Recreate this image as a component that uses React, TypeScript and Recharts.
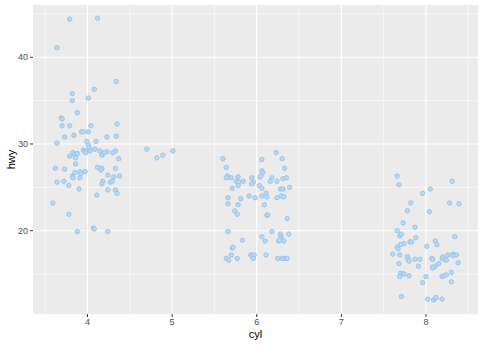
import React from "react";
import { ScatterChart, Scatter, XAxis, YAxis, ReferenceArea, ReferenceLine } from "recharts";

document.body.style.margin = "0";

// jittered points, one list per cylinder group
const cyl4: [number, number][] = [
  [3.79, 44.4], [4.12, 44.5], [3.64, 41.1], [4.34, 37.2], [4.08, 36.3], [3.82, 35.8], [3.82, 35.0], [4.01, 35.3],
  [3.88, 33.6], [3.69, 33.0], [3.7, 32.9], [3.7, 32.1], [3.79, 32.1], [4.04, 32.1], [4.35, 32.3], [3.93, 31.4],
  [3.95, 31.4], [4.01, 31.4], [3.84, 31.0], [3.73, 30.8], [4.23, 30.8], [4.34, 30.9], [3.99, 30.3], [4.1, 30.3],
  [3.64, 30.1], [4.01, 29.9], [4.02, 29.5], [3.95, 29.3], [3.97, 29.1], [4.04, 29.3], [4.09, 29.4], [4.15, 29.2],
  [4.17, 28.7], [4.23, 29.1], [4.2, 29.0], [4.33, 29.2], [4.3, 29.0], [4.37, 28.3], [3.79, 28.6], [3.83, 29.0],
  [3.85, 28.8], [3.88, 28.9], [3.86, 28.4], [3.86, 27.7], [3.62, 27.2], [3.73, 27.1], [3.85, 26.7], [3.91, 26.8],
  [3.92, 26.6], [3.97, 26.8], [3.82, 26.3], [3.83, 26.1], [3.91, 26.1], [3.64, 25.6], [3.72, 25.7], [3.78, 25.2],
  [3.9, 24.8], [4.12, 27.3], [4.17, 27.2], [4.16, 27.0], [4.33, 27.2], [4.38, 26.3], [4.24, 26.4], [4.31, 26.2],
  [4.18, 25.7], [4.17, 25.4], [4.27, 25.6], [4.29, 25.7], [4.24, 24.7], [4.33, 24.7], [4.35, 24.3], [4.11, 24.1],
  [3.59, 23.2], [3.78, 21.9], [3.88, 19.9], [4.07, 20.3], [4.08, 20.2], [4.24, 19.9], [3.99, 29.2], [4.03, 29.2],
  [3.98, 29.0],
];

const cyl5: [number, number][] = [
  [4.7, 29.4], [4.82, 28.4], [4.89, 28.7], [5.01, 29.2],
];

const cyl6: [number, number][] = [
  [6.23, 29.0], [5.6, 28.3], [6.06, 28.2], [6.3, 28.3], [5.64, 27.3], [6.33, 27.2], [6.06, 26.9], [6.07, 26.7],
  [5.65, 26.3], [5.67, 26.2], [5.7, 26.1], [5.64, 26.1], [5.78, 26.2], [5.76, 25.7], [5.79, 25.6], [5.84, 25.7],
  [5.94, 26.1], [5.96, 25.6], [5.94, 25.4], [6.04, 26.2], [6.05, 26.3], [6.18, 26.1], [6.16, 25.7], [6.24, 25.7],
  [6.31, 26.0], [6.35, 26.1], [5.78, 25.2], [5.71, 24.9], [6.03, 25.2], [6.06, 24.9], [6.39, 25.0], [6.28, 24.8],
  [6.31, 24.8], [5.91, 24.0], [5.98, 23.8], [6.06, 24.0], [6.11, 24.3], [6.12, 23.9], [5.66, 23.8], [5.81, 23.7],
  [6.24, 23.8], [6.29, 24.0], [6.32, 23.9], [5.66, 23.1], [5.78, 23.0], [6.09, 23.0], [5.74, 22.3], [5.77, 21.9],
  [6.12, 21.8], [6.13, 21.8], [6.36, 21.4], [5.66, 19.9], [6.18, 19.9], [5.83, 18.9], [6.06, 19.3], [6.1, 18.8],
  [6.28, 19.6], [6.29, 19.3], [6.38, 19.6], [6.26, 18.8], [6.32, 18.8], [5.71, 18.0], [5.72, 18.1], [5.7, 17.2],
  [5.64, 16.8], [5.67, 16.6], [5.77, 16.8], [5.93, 17.2], [5.94, 17.1], [5.97, 17.2], [5.96, 16.8], [6.11, 17.2],
  [6.25, 16.8], [6.3, 16.8], [6.32, 16.8], [6.35, 16.8], [6.36, 16.8], [6.28, 19.1], [6.27, 18.9],
];

const cyl8: [number, number][] = [
  [7.66, 26.3], [7.68, 25.3], [8.31, 25.7], [7.96, 24.3], [8.05, 24.8], [7.82, 23.2], [8.28, 23.2], [8.39, 23.1],
  [7.78, 22.3], [8.04, 22.2], [7.73, 20.9], [7.87, 20.4], [7.66, 20.0], [7.69, 19.4], [7.71, 19.6], [8.34, 19.3],
  [7.88, 19.2], [7.81, 18.7], [7.83, 18.7], [8.11, 18.8], [7.74, 18.5], [7.7, 18.4], [7.66, 18.1], [7.67, 17.9],
  [8.01, 18.2], [8.13, 18.4], [7.61, 17.3], [7.69, 17.2], [7.78, 17.0], [7.79, 16.7], [7.8, 16.5], [7.87, 16.7],
  [7.93, 16.7], [8.07, 16.8], [8.08, 16.7], [8.19, 16.8], [8.2, 17.0], [8.22, 16.7], [8.24, 16.6], [8.26, 17.2],
  [8.32, 17.3], [8.32, 17.1], [8.36, 17.2], [7.68, 16.2], [7.91, 15.9], [8.08, 15.8], [8.11, 15.9], [8.08, 15.7],
  [8.15, 16.2], [8.38, 16.3], [7.7, 15.1], [7.73, 15.0], [7.74, 15.0], [7.69, 14.7], [7.8, 14.8], [8.0, 14.7],
  [8.19, 14.7], [8.21, 14.8], [8.24, 14.9], [8.3, 15.2], [7.96, 14.0], [8.3, 14.1], [7.71, 12.4], [8.02, 12.1],
  [8.09, 12.0], [8.11, 12.2], [8.19, 12.1], [8.12, 12.3],
];

const xTicks = [4, 5, 6, 7, 8];
const yTicks = [20, 30, 40];
const xMinor = [3.5, 4.5, 5.5, 6.5, 7.5, 8.5];
const yMinor = [15, 25, 35, 45];
const xDomain: [number, number] = [3.356, 8.615];
const yDomain: [number, number] = [10.39, 46.03];

const points = [...cyl4, ...cyl5, ...cyl6, ...cyl8].map(([cyl, hwy]) => ({ cyl, hwy }));

const Dot = (props: any) => (
  <circle cx={props.cx} cy={props.cy} r={2.2} fill="#BBD8F0" stroke="#9CC6EA" strokeWidth={1} />
);

const tickStyle = { fontSize: 9, fill: "#4D4D4D", fontFamily: "Liberation Sans, Arial, sans-serif" };

export default function App() {
  return (
    <ScatterChart width={485} height={346} margin={{ top: 5, right: 7, bottom: 0, left: 0 }}>
      <XAxis
        type="number"
        dataKey="cyl"
        domain={xDomain}
        ticks={xTicks}
        allowDataOverflow
        axisLine={false}
        tickSize={3}
        tickMargin={2}
        tickLine={{ stroke: "#333333" }}
        tick={tickStyle}
        height={32}
        label={{
          content: ({ viewBox }: any) => (
            <text
              x={viewBox.x + viewBox.width / 2}
              y={viewBox.y + 24}
              textAnchor="middle"
              fontSize={11}
              fontFamily="Liberation Sans, Arial, sans-serif"
              fill="#000"
            >
              cyl
            </text>
          ),
        }}
      />
      <YAxis
        type="number"
        dataKey="hwy"
        domain={yDomain}
        ticks={yTicks}
        allowDataOverflow
        axisLine={false}
        tickSize={3}
        tickMargin={2}
        tickLine={{ stroke: "#333333" }}
        tick={tickStyle}
        width={33}
        label={{
          content: ({ viewBox }: any) => {
            const cx = 15;
            const cy = viewBox.y + viewBox.height / 2;
            return (
              <text
                x={cx}
                y={cy}
                transform={`rotate(-90 ${cx} ${cy})`}
                textAnchor="middle"
                fontSize={11}
                fontFamily="Liberation Sans, Arial, sans-serif"
                fill="#000"
              >
                hwy
              </text>
            );
          },
        }}
      />
      <ReferenceArea x1={xDomain[0]} x2={xDomain[1]} y1={yDomain[0]} y2={yDomain[1]} fill="#EBEBEB" fillOpacity={1} stroke="none" />
      {xMinor.map((v) => (
        <ReferenceLine key={`xm${v}`} x={v} stroke="#FFFFFF" strokeWidth={0.55} />
      ))}
      {yMinor.map((v) => (
        <ReferenceLine key={`ym${v}`} y={v} stroke="#FFFFFF" strokeWidth={0.55} />
      ))}
      {xTicks.map((v) => (
        <ReferenceLine key={`x${v}`} x={v} stroke="#FFFFFF" strokeWidth={1.1} />
      ))}
      {yTicks.map((v) => (
        <ReferenceLine key={`y${v}`} y={v} stroke="#FFFFFF" strokeWidth={1.1} />
      ))}
      <Scatter data={points} shape={Dot} isAnimationActive={false} />
    </ScatterChart>
  );
}
